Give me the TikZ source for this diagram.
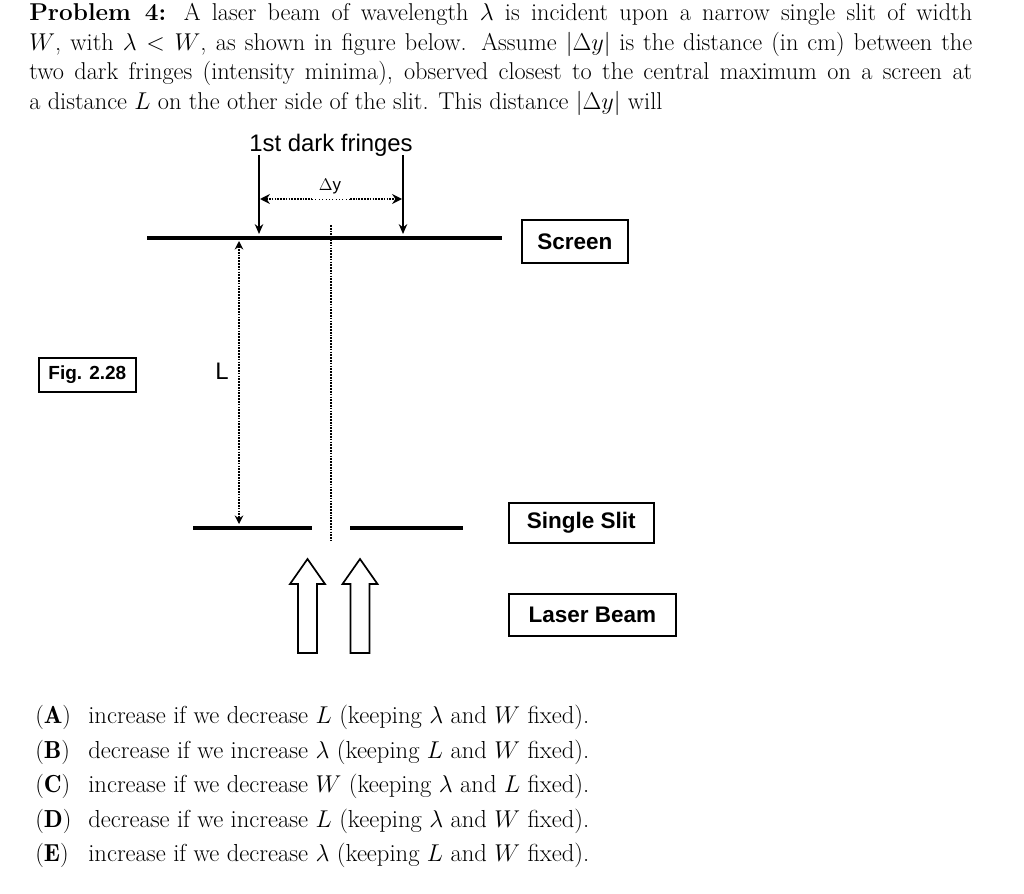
\documentclass[tikz,border=0pt]{standalone}
\usepackage{fontspec}
\usepackage{amsmath}
\newfontfamily\arial{Liberation Sans}
\usetikzlibrary{arrows.meta}
\begin{document}
\begin{tikzpicture}[x=0.025cm,y=-0.025cm,
  lbl/.style={draw,line width=1.2pt,font=\arial\bfseries\fontsize{16}{18}\selectfont,inner sep=0pt,anchor=north west},
  bar/.style={line width=3pt},
  dots/.style={line width=1.5pt,dash pattern=on 1.2pt off 0.8pt},
  hollow/.style={draw,line width=1.2pt,fill=white}]
\useasboundingbox (0,0) rectangle (1024,893);
\node[anchor=north west,inner sep=0pt,text width=943*0.025cm,align=justify,font=\fontsize{17.3}{21}\selectfont] (txt) at (29,3)
{\textbf{Problem 4:} A laser beam of wavelength $\lambda$ is incident upon a narrow single slit of width\linebreak
$W$, with $\lambda<W$, as shown in figure below. Assume $|\Delta y|$ is the distance (in cm) between the\linebreak
two dark fringes (intensity minima), observed closest to the central maximum on a screen at\linebreak
a distance $L$ on the other side of the slit. This distance $|\Delta y|$ will};
% screen
\coordinate (s1) at (147,238); \coordinate (s2) at (502,238);
\draw[bar] (s1) -- (s2);
\node[lbl,minimum width=106*0.025cm,minimum height=43*0.025cm] (scr) at (521,219) {Screen};
% fringes
\node[font=\arial\fontsize{17}{19}\selectfont,inner sep=0pt,anchor=base] (fr) at (331,152) {1st dark fringes};
\coordinate (f1t) at (259,155); \coordinate (f1b) at (259,234);
\coordinate (f2t) at (403,155); \coordinate (f2b) at (403,234);
\draw[line width=1.3pt,-{Stealth[length=7pt,width=6pt]}] (f1t) -- (f1b);
\draw[line width=1.3pt,-{Stealth[length=7pt,width=6pt]}] (f2t) -- (f2b);
\node[font=\arial\fontsize{12}{14}\selectfont,inner sep=0pt] (dy) at (330,186) {$\Delta$y};
\coordinate (d1) at (260,199); \coordinate (d2) at (402,199);
\draw[dots,{Stealth[length=7pt,width=7pt]}-] (d1) -- (312,199);
\draw[line width=0.4pt,dotted] (312,199) -- (350,199);
\draw[dots,-{Stealth[length=7pt,width=7pt]}] (350,199) -- (d2);
% centre line
\coordinate (c1) at (331,225); \coordinate (c2) at (331,541);
\draw[dots] (c1) -- (c2);
% L arrow
\coordinate (l1) at (239,241); \coordinate (l2) at (239,524);
\draw[dots,{Stealth[length=6pt,width=6pt]}-{Stealth[length=6pt,width=6pt]}] (l1) -- (l2);
\node[font=\arial\fontsize{17}{19}\selectfont,inner sep=0pt] (L) at (222,371) {L};
\node[draw,line width=1.2pt,font=\arial\bfseries\fontsize{13.5}{15}\selectfont,inner sep=0pt,minimum width=97*0.025cm,minimum height=34*0.025cm,anchor=north west] (fig) at (38,357) {Fig. 2.28};
% slit
\draw[bar] (193,528) coordinate (a1) -- (312,528) coordinate (a2);
\draw[bar] (350,528) coordinate (b1) -- (463,528) coordinate (b2);
\node[lbl,minimum width=145*0.025cm,minimum height=40*0.025cm] (slit) at (508,502) {Single Slit};
\node[lbl,minimum width=167*0.025cm,minimum height=42*0.025cm] (laser) at (508,593) {Laser Beam};
% hollow arrows
\foreach \cx in {307.5,360}{
  \draw[hollow] (\cx-9.5,653) -- (\cx-9.5,584) -- (\cx-17.5,584) -- (\cx,559) -- (\cx+17.5,584) -- (\cx+9.5,584) -- (\cx+9.5,653) -- cycle;
}
% answers
\foreach \y/\l/\t in {717/A/{increase if we decrease $L$ (keeping $\lambda$ and $W$ fixed).},
  752/B/{decrease if we increase $\lambda$ (keeping $L$ and $W$ fixed).},
  786/C/{increase if we decrease $W$ (keeping $\lambda$ and $L$ fixed).},
  821/D/{decrease if we increase $L$ (keeping $\lambda$ and $W$ fixed).},
  855/E/{increase if we decrease $\lambda$ (keeping $L$ and $W$ fixed).}}{
  \node[anchor=west,inner sep=0pt,font=\fontsize{17.5}{21}\selectfont] (ans\l) at (88,\y) {\t};
  \node[anchor=west,inner sep=0pt,font=\fontsize{17.5}{21}\selectfont] (lab\l) at (35,\y) {$\mathbf{(\l)}$};
}
\end{tikzpicture}
\end{document}
